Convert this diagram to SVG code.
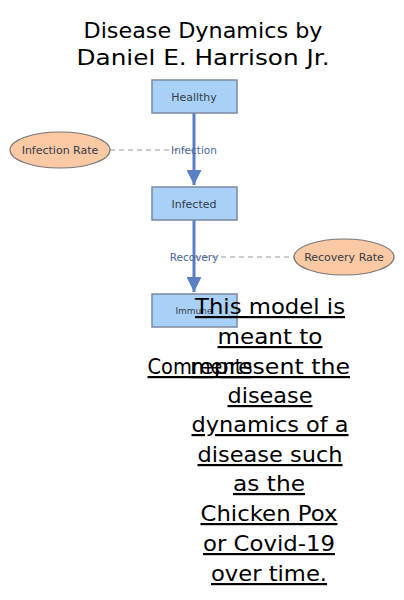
<svg xmlns="http://www.w3.org/2000/svg" width="404" height="600" viewBox="0 0 404 600">
<style>
text{font-family:"DejaVu Sans","Liberation Sans",sans-serif}
.title{font-size:21px;fill:#000;text-anchor:middle}
.box{fill:#a9d1f7;stroke:#7b8aa0;stroke-width:1.5}
.ell{fill:#fbc9a3;stroke:#777;stroke-width:1.2}
.nt{font-size:11px;fill:#333c4a;text-anchor:middle}
.flow{stroke:#5b7fc4;stroke-width:3;fill:none}
.dash{stroke:#9a9a9a;stroke-width:1.2;stroke-dasharray:5 4;fill:none}
.fl{font-size:10.5px;fill:#4b6899;text-anchor:middle}
.big{font-size:22px;fill:#000;text-anchor:middle;text-decoration:underline}
</style>
<defs>
<marker id="ah" viewBox="0 0 10 10" refX="10" refY="5" markerWidth="5" markerHeight="5" markerUnits="strokeWidth" orient="auto">
<path d="M0,0 L10,5 L0,10 z" fill="#5b7fc4"/>
</marker>
</defs>
<g id="title">
<text class="title" x="203" y="38" textLength="239" lengthAdjust="spacingAndGlyphs">Disease Dynamics by</text>
<text class="title" x="203" y="65" textLength="253" lengthAdjust="spacingAndGlyphs">Daniel E. Harrison Jr.</text>
</g>
<g id="connectors">
<line class="dash" x1="110" y1="150" x2="194" y2="150"/>
<line class="dash" x1="194" y1="257" x2="294" y2="257"/>
<line class="flow" x1="194" y1="113" x2="194" y2="185" marker-end="url(#ah)"/>
<line class="flow" x1="194" y1="220" x2="194" y2="292" marker-end="url(#ah)"/>
<text class="fl" x="194" y="154">Infection</text>
<text class="fl" x="194" y="261">Recovery</text>
</g>
<g id="healthy">
<rect class="box" x="152" y="80" width="85" height="33"/>
<text class="nt" x="194" y="101">Heallthy</text>
</g>
<g id="infected">
<rect class="box" x="152" y="187" width="85" height="33"/>
<text class="nt" x="194" y="208">Infected</text>
</g>
<g id="immune">
<rect class="box" x="152" y="294" width="85" height="33"/>
<text class="nt" x="194" y="314" style="font-size:9px">Immune</text>
</g>
<g id="infection-rate">
<ellipse class="ell" cx="60" cy="150" rx="50" ry="18"/>
<text class="nt" x="60" y="154">Infection Rate</text>
</g>
<g id="recovery-rate">
<ellipse class="ell" cx="344" cy="257" rx="50" ry="18"/>
<text class="nt" x="344" y="261">Recovery Rate</text>
</g>
<g id="comments">
<text class="big" x="200" y="374" textLength="105" lengthAdjust="spacingAndGlyphs">Comments</text>
<text class="big" x="270" y="314" textLength="150" lengthAdjust="spacingAndGlyphs">This model is</text>
<text class="big" x="270" y="344" textLength="105" lengthAdjust="spacingAndGlyphs">meant to</text>
<text class="big" x="270" y="374" textLength="160" lengthAdjust="spacingAndGlyphs">represent the</text>
<text class="big" x="270" y="403" textLength="85" lengthAdjust="spacingAndGlyphs">disease</text>
<text class="big" x="270" y="432" textLength="157" lengthAdjust="spacingAndGlyphs">dynamics of a</text>
<text class="big" x="270" y="462" textLength="145" lengthAdjust="spacingAndGlyphs">disease such</text>
<text class="big" x="269" y="491" textLength="72" lengthAdjust="spacingAndGlyphs">as the</text>
<text class="big" x="269" y="521" textLength="137" lengthAdjust="spacingAndGlyphs">Chicken Pox</text>
<text class="big" x="269" y="551" textLength="132" lengthAdjust="spacingAndGlyphs">or Covid-19</text>
<text class="big" x="269" y="581" textLength="116" lengthAdjust="spacingAndGlyphs">over time.</text>
</g>
</svg>
